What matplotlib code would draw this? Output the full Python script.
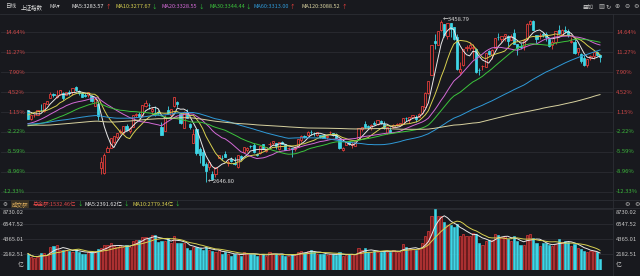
import numpy as np
import pandas as pd
import matplotlib
matplotlib.use('Agg')
import matplotlib.pyplot as plt
from matplotlib.patches import Rectangle

plt.rcParams['font.family'] = ['Noto Sans CJK SC', 'DejaVu Sans']

# ---------------- data (Shanghai Composite, daily) ----------------
# closes before the first visible candle (only used to warm up moving averages)
prior_close = [3044, 3043, 3015, 3005, 3011, 2933, 2929, 2915, 2918, 2930, 2942, 2937, 2924, 2901,
               2886, 2899, 2924, 2922, 2937, 2944, 2952, 2941, 2933,
               2908, 2867, 2821, 2777, 2768, 2774, 2815, 2797, 2815, 2808, 2823, 2880, 2883, 2880,
               2891, 2863, 2902, 2893, 2893, 2887, 2886, 2924,
               2931, 2957, 2985, 2999, 3024, 3021, 3008, 3031, 3030, 3009, 2978, 2985, 2999, 3006,
               2955, 2929, 2932, 2944, 2905,
               2905, 2913, 2940, 2947, 2973, 2977, 2938, 2952, 2954, 2938, 2939, 2955, 2940, 2954,
               2980, 2939, 2929,
               2958, 2975, 2991, 2978, 2964, 2909, 2914, 2905, 2909, 2891, 2909, 2933, 2911, 2904,
               2885, 2907, 2899, 2902, 2889, 2871, 2875,
               2884, 2878, 2899, 2912, 2914, 2917, 2924, 2915, 2967, 2984, 3022, 3017, 3017, 3005, 3005]

opens = [3006, 2963, 2980, 2982, 3006, 3003, 3037, 3066, 3089, 3070, 3085, 3094, 3082, 3097, 3096, 3121,
         3103, 3094, 3081, 3083, 3078, 3028, 3037,
         2716, 2691, 2797, 2818, 2848, 2870, 2895, 2892, 2927, 2899, 2924, 2981, 2985, 2975, 3027, 3033,
         3003, 2990, 2995, 2924,
         2899, 3006, 2982, 3026, 3046, 2988, 2918, 2997, 2936, 2839, 2910, 2812, 2794, 2734, 2723, 2684,
         2684, 2768, 2765, 2788, 2739, 2762,
         2743, 2719, 2777, 2798, 2807, 2827, 2829, 2788, 2789, 2834, 2801, 2836, 2842, 2842, 2809, 2848,
         2835, 2815, 2815, 2810, 2823,
         2854, 2878, 2879, 2898, 2893, 2883, 2881, 2880, 2871, 2894, 2889, 2885, 2862, 2808, 2830, 2849,
         2832, 2825,
         2862, 2911, 2936, 2926, 2916, 2942, 2935, 2953, 2937, 2889, 2906, 2924, 2931, 2934, 2936, 2968,
         2957, 2972, 2973, 2971,
         2991, 3024, 3093, 3183, 3352, 3334, 3409, 3437, 3378, 3441, 3424, 3371, 3199, 3233, 3320, 3319,
         3318, 3313, 3210, 3226, 3222, 3302, 3285,
         3319, 3375, 3361, 3379, 3380, 3357, 3395, 3339, 3330, 3327, 3363, 3436, 3454, 3385, 3378, 3390,
         3389, 3365, 3335, 3347, 3410,
         3389, 3409, 3404, 3350, 3350, 3297, 3290, 3270, 3235, 3270, 3279, 3299, 3282]
highs = [3009, 2984, 2986, 3007, 3036, 3041, 3051, 3098, 3093, 3108, 3105, 3095, 3095, 3105, 3115, 3127,
         3105, 3095, 3091, 3095, 3080, 3065, 3048,
         2772, 2790, 2828, 2867, 2876, 2891, 2912, 2926, 2935, 2920, 2983, 2990, 2998, 3031, 3058, 3043,
         3022, 3028, 3008, 2949,
         2982, 3026, 3012, 3074, 3053, 2989, 3000, 3010, 2944, 2910, 2910, 2822, 2812, 2745, 2755, 2702,
         2723, 2783, 2782, 2800, 2758, 2771,
         2773, 2782, 2780, 2821, 2821, 2832, 2839, 2792, 2827, 2835, 2820, 2846, 2853, 2843, 2844, 2853,
         2836, 2823, 2815, 2825, 2861,
         2879, 2882, 2899, 2906, 2896, 2898, 2882, 2884, 2878, 2899, 2892, 2889, 2863, 2820, 2847, 2851,
         2847, 2856,
         2916, 2924, 2951, 2930, 2935, 2954, 2956, 2959, 2951, 2923, 2922, 2935, 2943, 2944, 2969, 2971,
         2971, 2984, 2983, 2990,
         3025, 3095, 3153, 3335, 3388, 3404, 3458.79, 3437, 3443, 3445, 3425, 3389, 3246, 3315, 3335, 3349,
         3340, 3320, 3216, 3232, 3295, 3310, 3314,
         3370, 3392, 3380, 3387, 3381, 3387, 3413, 3340, 3343, 3362, 3444, 3458, 3456, 3385, 3393, 3400,
         3398, 3372, 3357, 3404, 3434,
         3411, 3426, 3411, 3372, 3362, 3317, 3291, 3283, 3264, 3281, 3296, 3305, 3285]
lows = [2962, 2957, 2974, 2980, 3003, 2998, 3036, 3066, 3074, 3065, 3084, 3059, 3081, 3082, 3082, 3101,
        3083, 3072, 3070, 3072, 3047, 3025, 2956,
        2685, 2685, 2794, 2818, 2837, 2860, 2884, 2888, 2901, 2890, 2924, 2970, 2966, 2971, 3022, 3010,
        2985, 2977, 2982, 2879,
        2899, 2985, 2974, 3023, 3024, 2939, 2918, 2968, 2914, 2839, 2783, 2741, 2728, 2646.80, 2705, 2655,
        2671, 2764, 2757, 2769, 2727, 2744,
        2733, 2716, 2754, 2796, 2797, 2817, 2792, 2775, 2786, 2809, 2797, 2820, 2832, 2809, 2807, 2836,
        2807, 2806, 2769, 2800, 2823,
        2847, 2864, 2878, 2883, 2877, 2876, 2865, 2866, 2859, 2885, 2877, 2865, 2810, 2800, 2830, 2831,
        2818, 2825,
        2862, 2903, 2918, 2910, 2905, 2930, 2930, 2936, 2914, 2885, 2889, 2918, 2925, 2926, 2936, 2950,
        2940, 2970, 2948, 2971,
        2986, 3020, 3088, 3181, 3311, 3334, 3402, 3374, 3363, 3373, 3359, 3210, 3185, 3226, 3303, 3307,
        3265, 3193, 3180, 3209, 3222, 3283, 3264,
        3316, 3357, 3346, 3354, 3326, 3357, 3340, 3283, 3311, 3310, 3357, 3432, 3407, 3344, 3363, 3371,
        3353, 3322, 3313, 3338, 3390,
        3382, 3394, 3371, 3343, 3289, 3281, 3245, 3228, 3223, 3258, 3262, 3277, 3248]
closes = [2962.75, 2982.68, 2981.88, 3007.35, 3005.04, 3040.02, 3050.12, 3085.20, 3083.79, 3083.41,
          3104.80, 3066.89, 3094.88, 3092.29, 3115.57, 3106.82, 3090.04, 3074.08, 3075.50, 3095.79,
          3052.14, 3060.75, 2976.53,
          2746.61, 2783.29, 2818.09, 2866.51, 2875.96, 2890.49, 2901.67, 2926.90, 2906.07, 2917.01,
          2983.62, 2984.97, 2975.40, 3030.15, 3039.67, 3031.23, 3013.05, 2987.93, 2991.33, 2880.30,
          2970.93, 2992.90, 3011.67, 3071.68, 3034.51, 2943.29, 2996.76, 2968.52, 2923.49, 2887.43,
          2789.25, 2779.64, 2728.76, 2702.13, 2745.62, 2660.17, 2722.44, 2781.59, 2764.91, 2772.20,
          2747.21, 2750.30,
          2734.52, 2780.64, 2763.99, 2820.76, 2815.37, 2825.90, 2796.63, 2783.05, 2827.28, 2811.17,
          2819.94, 2838.49, 2852.55, 2827.01, 2843.98, 2838.50, 2808.53, 2815.49, 2810.02, 2822.44,
          2860.08,
          2878.14, 2871.52, 2895.34, 2894.80, 2891.56, 2898.05, 2870.34, 2868.46, 2875.42, 2898.58,
          2883.74, 2867.92, 2813.77, 2817.97, 2846.55, 2836.80, 2836.27, 2852.35,
          2915.43, 2921.40, 2923.37, 2919.25, 2930.80, 2937.77, 2956.11, 2943.75, 2920.90, 2919.89,
          2890.03, 2931.75, 2935.87, 2939.32, 2967.63, 2965.27, 2970.62, 2979.55, 2961.52, 2984.67,
          3025.98, 3090.57, 3152.81, 3332.88, 3345.34, 3403.44, 3450.59, 3383.32, 3443.29, 3414.62,
          3361.30, 3210.10, 3214.13, 3314.15, 3320.90, 3333.16, 3325.11, 3196.77, 3205.23, 3227.96,
          3294.55, 3286.82, 3310.01,
          3367.97, 3371.69, 3377.56, 3386.46, 3354.04, 3379.25, 3340.29, 3319.27, 3320.73, 3360.10,
          3438.80, 3451.09, 3408.13, 3363.90, 3380.68, 3385.64, 3373.58, 3329.74, 3350.44, 3403.81,
          3395.68,
          3410.61, 3404.80, 3384.98, 3355.37, 3292.59, 3316.42, 3254.63, 3234.82, 3260.35, 3278.81,
          3295.68, 3283.92, 3270.44]
# turnover, 亿
volumes = [2300, 1750, 1600, 1850, 2350, 2350, 2050, 3300, 3400, 3500, 2800, 2900, 2800, 2700, 2600,
           3000, 2500, 2300, 2300, 2500, 2600, 2500, 3000,
           3100, 3500, 3500, 3800, 3400, 3200, 3500, 3200, 3600, 3300, 4100, 4300, 4300, 4700, 4700,
           4600, 5000, 5000, 4000, 4200,
           4100, 4500, 3800, 4800, 3900, 3900, 3800, 3100, 2900, 3300, 3200, 3100, 2900, 3300, 2800,
           2700, 2600, 2800, 2300, 2500, 2300, 2000,
           2200, 2300, 2000, 2600, 2300, 2200, 2300, 1900, 2200, 2200, 2000, 2500, 2300, 2300, 2100,
           2100, 2000, 2000, 2300, 2100, 2600,
           2700, 2400, 2700, 2800, 2500, 2300, 2300, 2200, 2100, 2300, 2200, 2100, 2500, 2000, 2100,
           2200, 2200, 2200,
           3100, 2900, 3100, 2600, 2500, 2700, 2600, 2600, 2700, 2600, 2600, 2800, 2600, 2600, 3700,
           3200, 3000, 3000, 2900, 3000,
           3800, 4900, 5600, 7800, 8730.02, 7700, 7800, 6900, 6400, 6400, 6200, 6600, 4900, 5200, 4900,
           4900, 5300, 5200, 3900, 3600, 4200, 4300, 4300,
           5200, 5000, 4700, 4800, 4400, 4200, 4800, 4100, 3500, 3500, 5000, 5200, 4500, 3900, 3400,
           3900, 3800, 3500, 3400, 3700, 4400,
           4000, 4200, 4000, 3400, 3700, 3100, 3000, 2636, 2600, 2700, 2650, 2475, 1532.46]

ma_windows = [5, 10, 20, 30, 60, 120]
ma_colors = ['#e8e8e8', '#d8d050', '#d36ad6', '#3cc43c', '#2f9ad8', '#d8d2a0']
ma_header = ['MA5:3283.57', 'MA10:3277.67', 'MA20:3328.55', 'MA30:3344.44', 'MA60:3313.00',
             'MA120:3088.52']
ma_header_x = [72, 115, 162, 209, 253, 302]
ma_arrow_up = [True, False, False, False, True, True]

pct_ticks = [14.64, 11.27, 7.90, 4.52, 1.15, -2.22, -5.59, -8.96, -12.33]
vol_ticks = [8730.02, 6547.52, 4365.01, 2182.51, 0]
vol_labels = ['8730.02', '6547.52', '4365.01', '2182.51', '亿']

# ---------------- styling ----------------
BG = '#18191e'
GRID = '#2a2c32'
RED = '#f0403c'
CYAN = '#3fd6e6'
GREEN = '#2fc23a'
TXT = '#c8c8c8'
W, H = 640, 276
FS = 4.2
HFS = 4.0

def fx(px):
    return px / W

def fy(py):
    return 1 - py / H

fig = plt.figure(figsize=(6.4, 2.76), dpi=100, facecolor=BG)
renderer = fig.canvas.get_renderer()

def text_after(prev, s, color, y, gap=0.8, **kw):
    bb = prev.get_window_extent(renderer)
    return fig.text(fx(bb.x1 + gap), y, s, color=color, va='center', **kw)

n = len(closes)
x = np.arange(n)
P0 = closes[0]
pct = lambda v: (np.asarray(v, dtype=float) / P0 - 1) * 100

# pixel geometry
x_first, x_last = 28, 600
step = (x_last - x_first) / (n - 1)
ax_left, ax_right = 1, 613
xlim = ((ax_left - x_first) / step, (n - 1) + (ax_right - x_last) / step)

main_top, main_bot = 15, 200
px_per_pct = 19.9 / 3.37
p_of = lambda py: 1.15 + (112 - py) / px_per_pct

ax = fig.add_axes([fx(ax_left), fy(main_bot), fx(ax_right - ax_left), (main_bot - main_top) / H])
ax.set_facecolor(BG)
ax.set_xlim(*xlim)
ax.set_ylim(p_of(main_bot), p_of(main_top))
for s in ax.spines.values():
    s.set_visible(False)
ax.set_xticks([])
ax.set_yticks([])
for t in pct_ticks:
    ax.axhline(t, color=GRID, lw=0.6, zorder=0)

bw = 0.68
o, h, l, c = pct(opens), pct(highs), pct(lows), pct(closes)
for i in range(n):
    up = closes[i] >= opens[i]
    col = RED if up else CYAN
    ax.vlines(i, l[i], h[i], color=col, lw=0.6, zorder=2)
    lo, hi = min(o[i], c[i]), max(o[i], c[i])
    ax.add_patch(Rectangle((i - bw / 2, lo), bw, max(hi - lo, 0.08),
                           facecolor=BG if up else CYAN, edgecolor=col, lw=0.55, zorder=3))

full = pd.Series(prior_close + closes, dtype=float)
for win, col in zip(ma_windows, ma_colors):
    ma = full.rolling(win, min_periods=1).mean().iloc[len(prior_close):].values
    ax.plot(x, pct(ma), color=col, lw=0.7, zorder=4)

# extreme labels
imax = int(np.argmax(highs))
imin = int(np.argmin(lows))
ax.text(imax + 0.6, pct(highs[imax]), '←' + f'{highs[imax]:.2f}', color='#d8d8d8', fontsize=FS,
        ha='left', va='center', zorder=5)
ax.text(imin + 0.6, pct(lows[imin]), '←' + f'{lows[imin]:.2f}', color='#d8d8d8', fontsize=FS,
        ha='left', va='center', zorder=5)

# percent labels both sides
for t in pct_ticks:
    col = '#d04848' if t > 0 else '#3cb83c'
    ypx = 112 - (t - 1.15) * px_per_pct
    fig.text(fx(25), fy(ypx), f'{t:.2f}%', color=col, fontsize=FS, ha='right', va='center')
    fig.text(fx(616), fy(ypx), f'{t:.2f}%', color=col, fontsize=FS, ha='left', va='center')

# ---------------- volume panel ----------------
v_top, v_bot = 209.3, 269.5
axv = fig.add_axes([fx(ax_left), fy(v_bot), fx(ax_right - ax_left), (v_bot - v_top) / H])
axv.set_facecolor(BG)
axv.set_xlim(*xlim)
axv.set_ylim(0, vol_ticks[0])
for s in axv.spines.values():
    s.set_visible(False)
axv.set_xticks([])
axv.set_yticks([])
for t in vol_ticks[:-1]:
    axv.axhline(t, color=GRID, lw=0.6, zorder=0)
for i in range(n):
    up = closes[i] >= opens[i]
    if up:
        axv.bar(i, volumes[i], width=bw, facecolor='#6a1c1e', edgecolor='#d83a3a', lw=0.5, zorder=2)
    else:
        axv.bar(i, volumes[i], width=bw, facecolor=CYAN, edgecolor=CYAN, lw=0.4, zorder=2)
vs = pd.Series(volumes, dtype=float)
axv.plot(x, vs.rolling(5, min_periods=1).mean().values, color='#e8e8e8', lw=0.7, zorder=3)
axv.plot(x, vs.rolling(10, min_periods=1).mean().values, color='#d8d050', lw=0.7, zorder=3)

for t, lab in zip(vol_ticks, vol_labels):
    ypx = v_bot - t / vol_ticks[0] * (v_bot - v_top)
    if t == vol_ticks[0]:
        ypx += 3.5
    if t == 0:
        ypx -= 4.5
    fig.text(fx(24), fy(ypx), lab, color=TXT, fontsize=FS, ha='right', va='center')
    fig.text(fx(616), fy(ypx), lab, color=TXT, fontsize=FS, ha='left', va='center')

# ---------------- frame lines ----------------
def hline(py, x0=0, x1=W, col='#2c2e34'):
    fig.add_artist(plt.Line2D([fx(x0), fx(x1)], [fy(py), fy(py)], color=col, lw=0.6))

def vline(px, y0, y1, col='#2c2e34'):
    fig.add_artist(plt.Line2D([fx(px), fx(px)], [fy(y0), fy(y1)], color=col, lw=0.6))

hline(14)
hline(200)
hline(208)
vline(613, 14, 276)

# ---------------- header texts ----------------
hy = fy(7)
fig.text(fx(5), hy, '日线', color='#d0d0d0', fontsize=HFS, va='center')
fig.text(fx(21), hy, '上证指数', color='#e0e0e0', fontsize=HFS, va='center')
fig.text(fx(50), hy, 'MA▾', color='#d0d0d0', fontsize=HFS, va='center')
for txt, xx, up, col in zip(ma_header, ma_header_x, ma_arrow_up, ma_colors):
    t = fig.text(fx(xx), hy, txt, color=col, fontsize=HFS, va='center')
    text_after(t, '↑' if up else '↓', RED if up else GREEN, hy, fontsize=HFS)
fig.text(fx(583), hy, '叠加', color='#b8b8b8', fontsize=HFS, va='center')
for xx, g in zip([598, 606, 614, 624, 633], ['▥', '↻', '⊕', '⊖', '⚙']):
    fig.text(fx(xx), hy, g, color='#b8b8b8', fontsize=HFS + 0.5, va='center',
             family=['DejaVu Sans'])

vy = fy(204)
fig.text(fx(3), vy, '⚙', color='#c8c8c8', fontsize=HFS, va='center', family=['DejaVu Sans'])
fig.text(fx(12), vy, '成交额', color='#e0b060', fontsize=HFS, va='center',
         bbox=dict(boxstyle='square,pad=0.15', facecolor='#3a3224', edgecolor='none'))
t = fig.text(fx(33), vy, '总金额:1532.46亿', color='#e04848', fontsize=HFS, va='center')
a = text_after(t, '↓', GREEN, vy, fontsize=HFS)
t = text_after(a, 'MA5:2391.62亿', '#e8e8e8', vy, gap=2, fontsize=HFS)
a = text_after(t, '↓', GREEN, vy, fontsize=HFS)
t = text_after(a, 'MA10:2779.34亿', '#d8d050', vy, gap=3, fontsize=HFS)
text_after(t, '↓', GREEN, vy, fontsize=HFS)
for xx, g in zip([624, 634], ['⚙', '⚙']):
    fig.text(fx(xx), vy, g, color='#b8b8b8', fontsize=HFS + 0.5, va='center', family=['DejaVu Sans'])

fig.savefig('out.png', dpi=100, facecolor=BG)
